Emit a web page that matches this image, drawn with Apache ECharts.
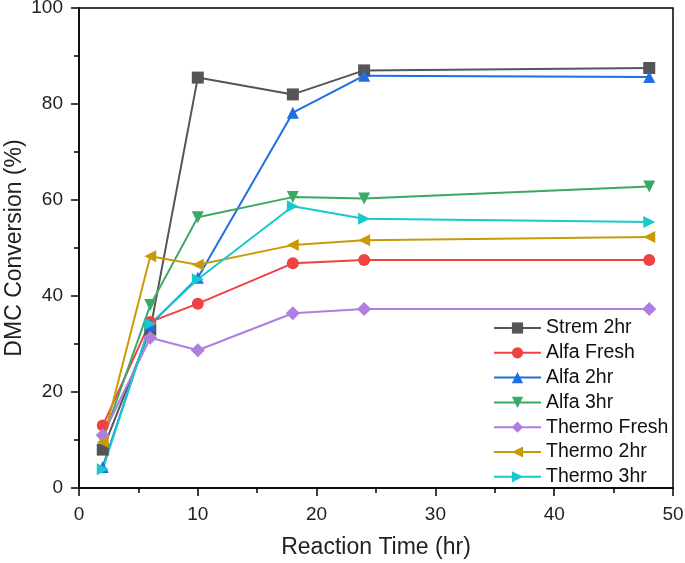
<!DOCTYPE html>
<html>
<head>
<meta charset="utf-8">
<script src="https://cdn.jsdelivr.net/npm/echarts@6/dist/echarts.min.js"></script>
<style>
  html, body { margin: 0; padding: 0; background: #fff; }
  #main { width: 685px; height: 563px; }
</style>
</head>
<body>
<div id="main"></div>
<script>
// reaction time (hr) and DMC conversion (%) per catalyst
var times = [2, 6, 10, 18, 24, 48];
var strem2hr = [8, 33, 85.5, 82, 87, 87.5];
var alfaFresh = [13, 34.6, 38.4, 46.8, 47.5, 47.5];
var alfa2hr = [4.4, 34, 43.8, 78.2, 85.9, 85.6];
var alfa3hr = [10, 38.1, 56.4, 60.6, 60.3, 62.8];
var thermoFresh = [11, 31.3, 28.7, 36.4, 37.3, 37.3];
var thermo2hr = [9.6, 48.3, 46.5, 50.6, 51.6, 52.3];
var thermo3hr = [3.9, 34.2, 43.5, 58.7, 56.1, 55.4];

var font = 'Liberation Sans, Arial, sans-serif';

function pairs(vals) {
	return times.map(function(t, i) {
		return [t, vals[i]];
	});
}

function mk(name, vals, color, symbol, rot) {
	return {
		name : name,
		type : 'line',
		data : pairs(vals),
		symbol : symbol,
		symbolSize : symbol === 'diamond' ? 14 : 12,
		symbolRotate : rot || 0,
		lineStyle : { width : 2, color : color },
		itemStyle : { color : color },
		emphasis : { disabled : true },
		z : 2
	};
}

var myChart = echarts.init(document.getElementById('main'));

var option = {
	animation : false,
	grid : {
		left : 79, top : 8, width : 594, height : 480,
		containLabel : false, outerBoundsMode : 'none',
		show : true, borderColor : '#000', borderWidth : 1.5
	},
	legend : {
		orient : 'vertical',
		left : 488, top : 313,
		itemWidth : 47, itemHeight : 14, itemGap : 4.8,
		textStyle : { fontFamily : font, fontSize : 19.5, color : '#111' }
	},
	xAxis : {
		type : 'value', min : 0, max : 50, interval : 10,
		name : 'Reaction Time (hr)', nameLocation : 'middle', nameGap : 48,
		nameMoveOverlap : false,
		nameTextStyle : { fontFamily : font, fontSize : 23, color : '#222' },
		axisLine : { lineStyle : { color : '#000', width : 1.5 } },
		axisTick : { length : 8, lineStyle : { color : '#000', width : 1.5 } },
		minorTick : { show : true, splitNumber : 2, length : 5, lineStyle : { color : '#000', width : 1.5 } },
		axisLabel : { fontFamily : font, fontSize : 19, color : '#222', margin : 17 },
		splitLine : { show : false }
	},
	yAxis : {
		type : 'value', min : 0, max : 100, interval : 20,
		name : 'DMC Conversion (%)', nameLocation : 'middle', nameGap : 53,
		nameMoveOverlap : false,
		nameTextStyle : { fontFamily : font, fontSize : 23, color : '#222' },
		axisLine : { lineStyle : { color : '#000', width : 1.5 } },
		axisTick : { length : 8, lineStyle : { color : '#000', width : 1.5 } },
		minorTick : { show : true, splitNumber : 2, length : 5, lineStyle : { color : '#000', width : 1.5 } },
		axisLabel : { fontFamily : font, fontSize : 19, color : '#222', margin : 16 },
		splitLine : { show : false }
	},
	series : [
		mk('Strem 2hr', strem2hr, '#555555', 'rect'),
		mk('Alfa Fresh', alfaFresh, '#ef4242', 'circle'),
		mk('Alfa 2hr', alfa2hr, '#1f6fe4', 'triangle'),
		mk('Alfa 3hr', alfa3hr, '#3aa966', 'triangle', 180),
		mk('Thermo Fresh', thermoFresh, '#b07de0', 'diamond'),
		mk('Thermo 2hr', thermo2hr, '#c99a08', 'triangle', 90),
		mk('Thermo 3hr', thermo3hr, '#18c8cc', 'triangle', -90)
	]
};

myChart.setOption(option);
</script>
</body>
</html>
